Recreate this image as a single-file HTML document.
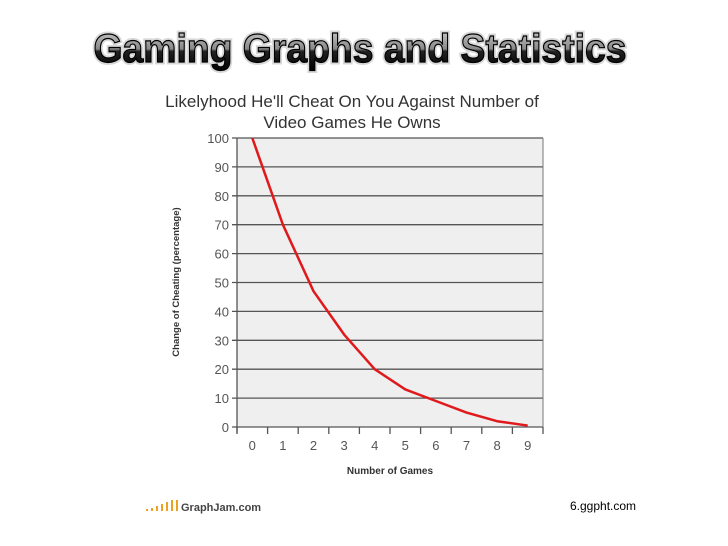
<!DOCTYPE html>
<html><head><meta charset="utf-8"><style>
html,body{margin:0;padding:0;background:#fff;}
svg{display:block;font-family:"Liberation Sans",sans-serif;}
</style></head><body>
<svg id="chart" width="728" height="546" viewBox="0 0 728 546">
<defs>
<linearGradient id="tg" x1="0" y1="0" x2="0" y2="1">
<stop offset="0" stop-color="#d0d0d0"/><stop offset="0.5" stop-color="#888"/><stop offset="0.55" stop-color="#222"/><stop offset="1" stop-color="#000"/>
</linearGradient>
</defs>
<text x="360" y="62" text-anchor="middle" font-size="40" font-weight="bold" textLength="533" lengthAdjust="spacingAndGlyphs" fill="none" stroke="#d8d8d8" stroke-width="5">Gaming Graphs and Statistics</text>
<text x="360" y="62" text-anchor="middle" font-size="40" font-weight="bold" textLength="533" lengthAdjust="spacingAndGlyphs" fill="url(#tg)" stroke="#000" stroke-width="1.2">Gaming Graphs and Statistics</text>
<text x="352" y="107" text-anchor="middle" font-size="17" fill="#333">Likelyhood He'll Cheat On You Against Number of</text>
<text x="352" y="128" text-anchor="middle" font-size="17" fill="#333">Video Games He Owns</text>
<rect x="237" y="138" width="306" height="289" fill="#efefef"/>
<g id="grid"></g>
<g id="axes"></g>
<path id="line" fill="none" stroke="#e0191c" stroke-width="2.5" stroke-linejoin="round"/>
<text x="0" y="0" transform="translate(179,282) rotate(-90)" text-anchor="middle" font-size="9.5" font-weight="bold" fill="#333">Change of Cheating (percentage)</text>
<text x="390" y="474" text-anchor="middle" font-size="10" font-weight="bold" fill="#333">Number of Games</text>
<g>
<rect x="146" y="509" width="2" height="2" fill="#f0a020"/>
<rect x="151" y="508" width="2" height="3" fill="#f0a020"/>
<rect x="156" y="506" width="2" height="5" fill="#f0a020"/>
<rect x="161" y="504" width="2" height="7" fill="#f0a020"/>
<rect x="166" y="502" width="2" height="9" fill="#f0a020"/>
<rect x="171" y="500" width="2" height="11" fill="#f0a020"/>
<rect x="176" y="500" width="2" height="11" fill="#f0a020"/>
<text x="181" y="511" font-size="11" font-weight="bold" fill="#444">GraphJam.com</text>
</g>
<text x="570" y="510" font-size="12" fill="#000">6.ggpht.com</text>
</svg>
<script>
const categories = [0,1,2,3,4,5,6,7,8,9];
const values = [100,70,47,32,20,13,9,5,2,0.5];
const yTicks = [0,10,20,30,40,50,60,70,80,90,100];
const NS = "http://www.w3.org/2000/svg";
const L = 237, R = 543, T = 138, B = 427;
const band = (R - L) / categories.length;
const xs = i => L + band * (i + 0.5);
const ys = v => B - (v / 100) * (B - T);
const grid = document.getElementById('grid');
const axes = document.getElementById('axes');
function mk(tag, attrs, parent){ const e = document.createElementNS(NS, tag); for (const k in attrs) e.setAttribute(k, attrs[k]); parent.appendChild(e); return e; }
yTicks.forEach(t => {
  const y = ys(t);
  const g = mk('line', {x1:L-5, x2:R, y1:y, y2:y, stroke:'#555', 'stroke-width':1.3}, grid);
  
  
  const lb = mk('text', {x:L-8, y:y+5, 'text-anchor':'end', 'font-size':13, fill:'#555'}, axes);
  lb.textContent = t;
  
  
});
const al = mk('line', {x1:L, x2:L, y1:T, y2:B+6, stroke:'#555', 'stroke-width':1.3}, axes);


const ar = mk('line', {x1:R, x2:R, y1:T, y2:B+6, stroke:'#777', 'stroke-width':1}, axes);


for (let i = 0; i <= categories.length; i++) {
  const x = L + band * i;
  const tk = mk('line', {x1:x, x2:x, y1:B, y2:B+7, stroke:'#555', 'stroke-width':1.3}, axes);
  
  
}
categories.forEach((c, i) => {
  const lb = mk('text', {x:xs(i), y:450, 'text-anchor':'middle', 'font-size':13, fill:'#555'}, axes);
  lb.textContent = c;
  
  
});
document.getElementById('line').setAttribute('d', values.map((v, i) => (i ? 'L' : 'M') + xs(i) + ' ' + ys(v)).join(' '));
</script>
</body></html>
